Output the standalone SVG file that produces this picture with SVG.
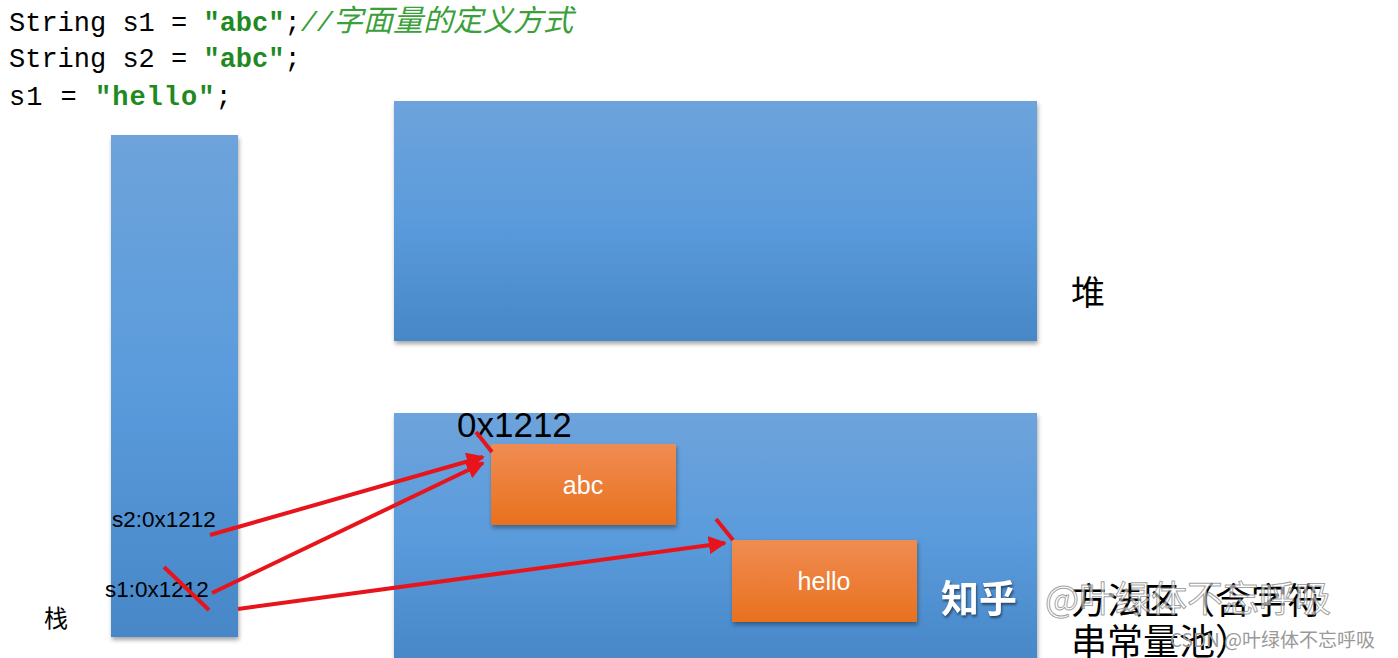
<svg xmlns="http://www.w3.org/2000/svg" width="1398" height="658" viewBox="0 0 1398 658">
<style>
.code{font-family:"Liberation Mono","Noto Sans CJK SC",monospace;font-size:27px;fill:#000}
.str{fill:#1f8a1f;font-weight:bold}
.cmt{fill:#3aa03a;font-style:italic}
.lbl{font-family:"Liberation Sans","Noto Sans CJK SC",sans-serif;fill:#000}
.cjk{font-family:"Noto Sans CJK SC",sans-serif;fill:#000}
.w{font-family:"Liberation Sans",sans-serif;fill:#fff;font-size:25px}
.red{stroke:#e8141c;stroke-width:4;fill:none;stroke-linecap:butt}
</style>
<defs>
<linearGradient id="blue" x1="0" y1="0" x2="0" y2="1">
<stop offset="0" stop-color="#6ea3db"/>
<stop offset="0.5" stop-color="#5a9bdc"/>
<stop offset="1" stop-color="#4787c8"/>
</linearGradient>
<linearGradient id="orange" x1="0" y1="0" x2="0" y2="1">
<stop offset="0" stop-color="#f08c52"/>
<stop offset="1" stop-color="#e8711e"/>
</linearGradient>
<filter id="sh" x="-10%" y="-10%" width="120%" height="120%">
<feDropShadow dx="1" dy="3" stdDeviation="2" flood-color="#000" flood-opacity="0.35"/>
</filter>
<marker id="ah" viewBox="0 0 10 10" refX="9" refY="5" markerWidth="4.5" markerHeight="4.5" orient="auto" markerUnits="strokeWidth">
<path d="M0,0 L10,5 L0,10 z" fill="#e8141c"/>
</marker>
</defs>
<rect width="1398" height="658" fill="#fff"/>
<g id="code">
<text class="code" x="9" y="31">String s1 = <tspan class="str">"abc"</tspan>;<tspan class="cmt">//<tspan font-size="30">字面量的定义方式</tspan></tspan></text>
<text class="code" x="9" y="67">String s2 = <tspan class="str">"abc"</tspan>;</text>
<text class="code" x="9" y="105" letter-spacing="1">s1 = <tspan class="str">"hello"</tspan>;</text>
</g>
<g id="stack">
<rect x="111" y="135" width="127" height="502" fill="url(#blue)" filter="url(#sh)"/>
<text class="lbl" x="112" y="527" font-size="22.5">s2:0x1212</text>
<text class="lbl" x="105" y="597" font-size="22.5">s1:0x1212</text>
<text class="cjk" x="44" y="627" font-size="24">栈</text>
</g>
<g id="heap">
<rect x="394" y="101" width="643" height="240" fill="url(#blue)" filter="url(#sh)"/>
<text class="cjk" x="1071" y="305" font-size="34">堆</text>
</g>
<g id="method-area">
<rect x="394" y="413" width="643" height="250" fill="url(#blue)" filter="url(#sh)"/>
<text class="cjk" x="1071" y="614" font-size="36">方法区（含字符</text>
<text class="cjk" x="1071" y="655" font-size="36">串常量池）</text>
</g>
<g id="abc">
<rect x="491" y="444" width="185" height="81" fill="url(#orange)" filter="url(#sh)"/>
<text class="w" x="583" y="494" text-anchor="middle">abc</text>
<text class="lbl" x="457" y="437" font-size="35">0x1212</text>
</g>
<g id="hello">
<rect x="732" y="540" width="185" height="82" fill="url(#orange)" filter="url(#sh)"/>
<text class="w" x="824" y="590" text-anchor="middle">hello</text>
</g>
<g id="connectors">
<line class="red" x1="210" y1="535" x2="483" y2="457" marker-end="url(#ah)"/>
<line class="red" x1="212" y1="593" x2="483" y2="463" marker-end="url(#ah)"/>
<line class="red" x1="238" y1="609" x2="725" y2="543" marker-end="url(#ah)"/>
<line class="red" x1="164" y1="567" x2="209" y2="610"/>
<line class="red" x1="476" y1="432" x2="492" y2="452"/>
<line class="red" x1="716" y1="519" x2="733" y2="540"/>
</g>
<g id="watermark">
<text x="941" y="612" font-family="Noto Sans CJK SC,sans-serif" font-size="38" font-weight="bold" fill="#fff" style="filter:drop-shadow(1px 2px 1px rgba(0,0,0,0.5))">知乎</text>
<text x="1045" y="612" font-family="Noto Sans CJK SC,sans-serif" font-size="36" fill="#fff" fill-opacity="0.6" stroke="#777" stroke-opacity="0.7" stroke-width="1">@叶绿体不忘呼吸</text>
<text x="1170" y="647" font-family="Noto Sans CJK SC,sans-serif" font-size="19" fill="#999">CSDN @叶绿体不忘呼吸</text>
</g>
</svg>
